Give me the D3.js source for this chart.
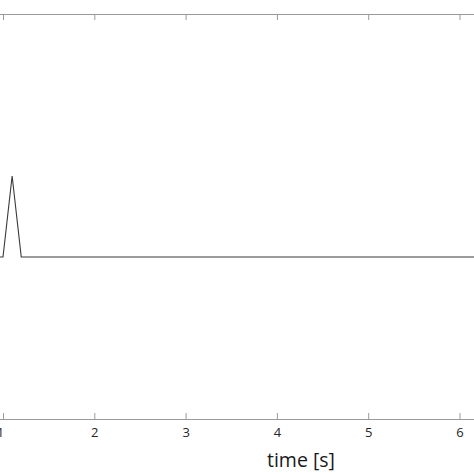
<html>
<head>
<meta charset="utf-8">
<script src="https://d3js.org/d3.v7.min.js"></script>
<style>
body { margin: 0; background: #fff; }
</style>
</head>
<body>
<svg id="svg" width="474" height="474"></svg>
<script>
'use strict';

// signal vertices
const times = [0, 1.0, 1.1, 1.2, 6.6];
const values = [0, 0, 1, 0, 0];
const xTicks = [1, 2, 3, 4, 5, 6];
const xLabel = 'time [s]';

const svg = d3.select('#svg');

// plot box; the left and right sides fall outside the picture
const x = d3.scaleLinear().domain([1, 6]).range([3, 459.5]);
const y = d3.scaleLinear().domain([-2, 3]).range([419, 14]);

const xLeft = x(-0.5);
const xRight = x(6.6);

const axisColor = '#9a9a9a';

const bottomAxis = svg.append('g')
	.attr('transform', `translate(0,${y(-2)})`)
	.call(d3.axisBottom(x).tickValues(xTicks).tickFormat(d3.format('d')).tickSizeInner(-6).tickSizeOuter(0).tickPadding(9));
bottomAxis.select('.domain').remove();
bottomAxis.selectAll('line').attr('stroke', axisColor);
bottomAxis.selectAll('text')
	.attr('fill', '#262626')
	.style('font-family', 'Open Sans, sans-serif')
	.style('font-size', '13px');
// the first label is cut by the left edge in the source picture
bottomAxis.selectAll('.tick text').filter(d => d === 1).attr('dx', -3);

const topAxis = svg.append('g')
	.attr('transform', `translate(0,${y(3)})`)
	.call(d3.axisTop(x).tickValues(xTicks).tickFormat('').tickSizeInner(-6).tickSizeOuter(0));
topAxis.select('.domain').remove();
topAxis.selectAll('line').attr('stroke', axisColor);

svg.append('line')
	.attr('x1', xLeft).attr('x2', xRight)
	.attr('y1', y(-2) + 0.5).attr('y2', y(-2) + 0.5)
	.attr('stroke', axisColor).attr('stroke-width', 1.2);
svg.append('line')
	.attr('x1', xLeft).attr('x2', xRight)
	.attr('y1', y(3) + 0.5).attr('y2', y(3) + 0.5)
	.attr('stroke', axisColor).attr('stroke-width', 1.2);

const line = d3.line()
	.x((d, i) => x(times[i]))
	.y(d => y(d));

svg.append('path')
	.datum(values)
	.attr('d', line)
	.attr('fill', 'none')
	.attr('stroke', '#3a3a3a')
	.attr('stroke-width', 1.1);

svg.append('text')
	.attr('x', 301)
	.attr('y', 467)
	.attr('text-anchor', 'middle')
	.attr('fill', '#1a1a1a')
	.style('font-family', 'Open Sans, sans-serif')
	.style('font-size', '19.5px')
	.text(xLabel);
</script>
</body>
</html>
